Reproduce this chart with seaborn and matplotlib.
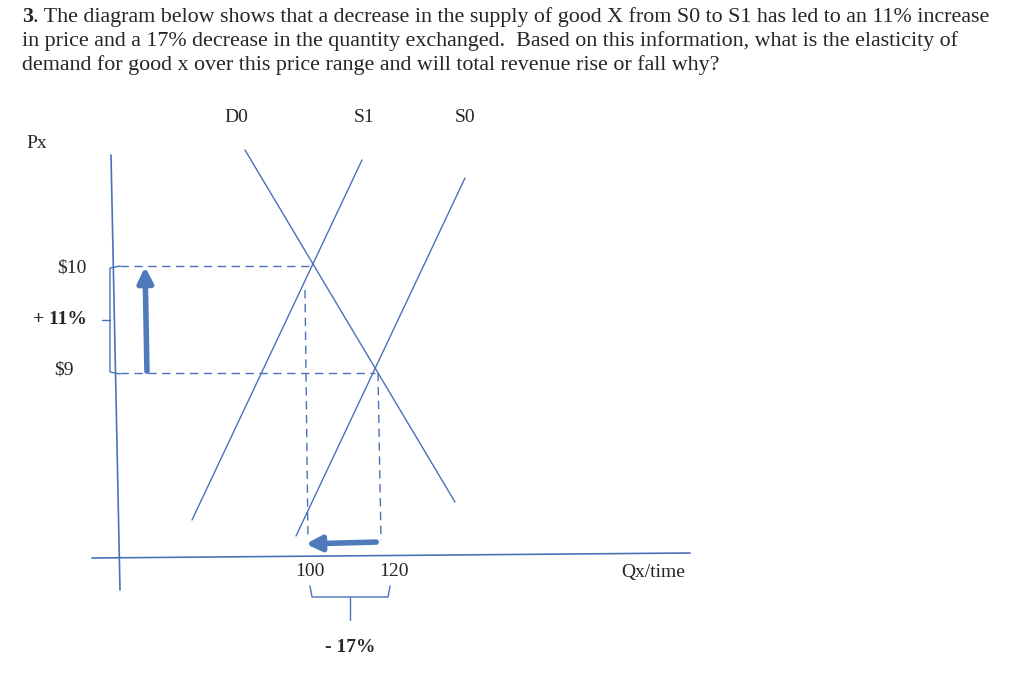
import matplotlib
matplotlib.use("Agg")
import matplotlib.pyplot as plt
import seaborn as sns

sns.set_style("white")
plt.rcParams['font.family'] = ['Liberation Serif', 'DejaVu Serif']

# curves (diagram pixel space: x right, y down)
d0_x = [245, 455]; d0_y = [150, 502]
s1_x = [192, 362]; s1_y = [520, 160]
s0_x = [296, 465]; s0_y = [536, 178]
yaxis_x = [111, 120]; yaxis_y = [155, 590]
xaxis_x = [92, 690]; xaxis_y = [558, 553]
price_labels = ["$10", "+ 11%", "$9"]
qty_labels = ["100", "120"]

fig = plt.figure(figsize=(10.24, 6.98), dpi=100)
ax = fig.add_axes([0, 0, 1, 1])
ax.set_xlim(0, 1024); ax.set_ylim(698, 0); ax.axis("off")
col = "#4a72b8"
for xs, ys in [(d0_x, d0_y), (s1_x, s1_y), (s0_x, s0_y)]:
    sns.lineplot(x=xs, y=ys, ax=ax, color=col, lw=1, sort=False, estimator=None)
for xs, ys in [(yaxis_x, yaxis_y), (xaxis_x, xaxis_y)]:
    sns.lineplot(x=xs, y=ys, ax=ax, color=col, lw=1.2, sort=False, estimator=None)
dash = dict(color=col, lw=1, ls=(0, (6, 4)))
ax.plot([120, 313], [266, 266], **dash)
ax.plot([120, 375], [373, 373], **dash)
ax.plot([305, 308], [290, 540], **dash)
ax.plot([378, 381], [373, 540], **dash)
ax.annotate("", xy=(145, 264), xytext=(147, 374),
            arrowprops=dict(arrowstyle="-|>,head_width=0.45,head_length=0.9", color="#4f7bbd", lw=4))
ax.annotate("", xy=(303, 544), xytext=(379, 542),
            arrowprops=dict(arrowstyle="-|>,head_width=0.45,head_length=0.9", color="#4f7bbd", lw=4))
# braces
ax.plot([120, 110, 110, 120], [266, 268, 372, 374], color=col, lw=1)
ax.plot([102, 110], [320, 320], color=col, lw=1)
ax.plot([310, 312, 388, 390], [586, 597, 597, 586], color=col, lw=1)
ax.plot([350, 350], [597, 620], color=col, lw=1)

fs = 15.8
title = ["3. The diagram below shows that a decrease in the supply of good X from S0 to S1 has led to an 11% increase",
         "in price and a 17% decrease in the quantity exchanged.  Based on this information, what is the elasticity of",
         "demand for good x over this price range and will total revenue rise or fall why?"]
t0 = ax.text(22, 17, "3", fontsize=fs, va="center", fontweight="bold")
ax.annotate(title[0][1:], xy=(1, 0.5), xycoords=t0, fontsize=fs, va="center")
for i, t in enumerate(title[1:], start=1):
    ax.text(22, 17 + 24 * i, t, fontsize=fs, va="center")
for lbl, x in [("D0", 236), ("S1", 364), ("S0", 465)]:
    ax.text(x, 118, lbl, fontsize=14, ha="center", va="center")
ax.text(26, 143, "Px", fontsize=14, va="center")
ax.text(87, 268, price_labels[0], fontsize=14, ha="right", va="center")
ax.text(87, 320, price_labels[1], fontsize=14, ha="right", va="center", fontweight="bold")
ax.text(74, 370, price_labels[2], fontsize=14, ha="right", va="center")
ax.text(310, 572, qty_labels[0], fontsize=14, ha="center", va="center")
ax.text(394, 572, qty_labels[1], fontsize=14, ha="center", va="center")
ax.text(653, 572, "Qx/time", fontsize=14, ha="center", va="center")
ax.text(350, 647, "- 17%", fontsize=14, ha="center", va="center", fontweight="bold")
fig.savefig("out.png", dpi=100)
